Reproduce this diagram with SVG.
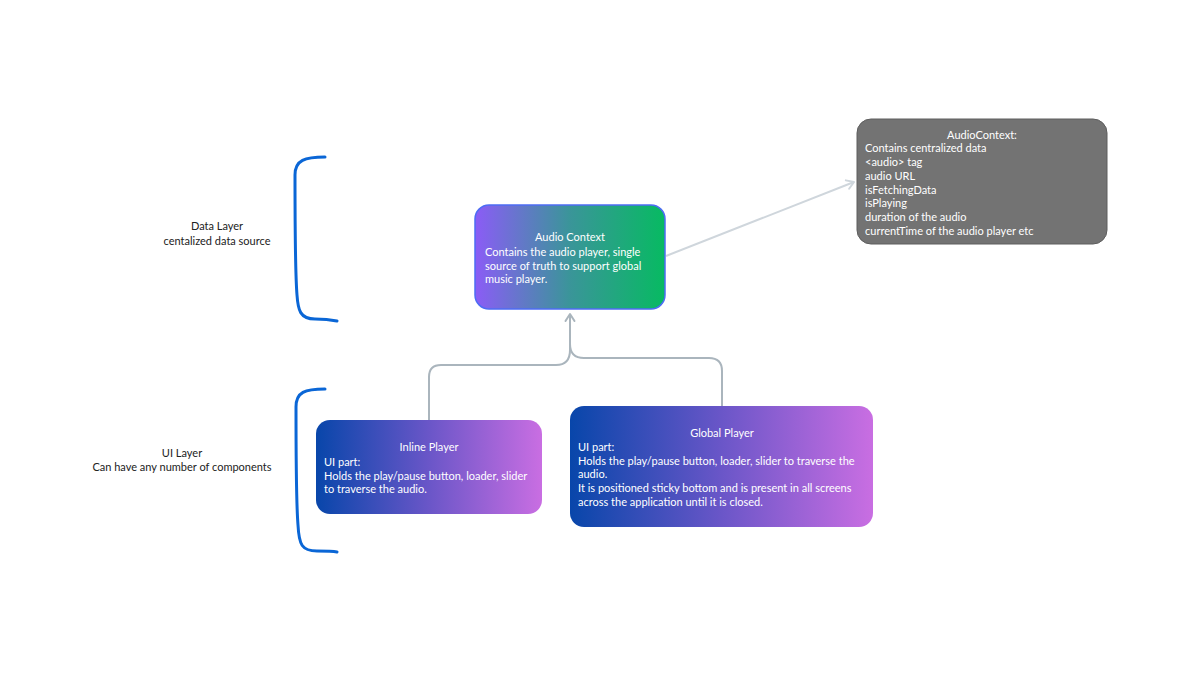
<svg xmlns="http://www.w3.org/2000/svg" width="1200" height="675" viewBox="0 0 1200 675">
<defs>
<linearGradient id="gCtx" x1="0" y1="0" x2="1" y2="0">
<stop offset="0" stop-color="#8b5cf6"/>
<stop offset="0.5" stop-color="#3a9599"/>
<stop offset="1" stop-color="#07ba62"/>
</linearGradient>
<linearGradient id="gUi" x1="0" y1="0" x2="1" y2="0">
<stop offset="0" stop-color="#0846aa"/>
<stop offset="0.5" stop-color="#6a56c8"/>
<stop offset="1" stop-color="#c96ee2"/>
</linearGradient>
<marker id="ah" viewBox="0 0 10 10" refX="8" refY="5" markerWidth="6" markerHeight="6" orient="auto" markerUnits="userSpaceOnUse">
<path d="M1,1 L8,5 L1,9" fill="none" stroke="context-stroke" stroke-width="1.6" stroke-linecap="round" stroke-linejoin="round"/>
</marker>
<marker id="ahGray" viewBox="0 0 12 12" refX="10" refY="6" markerWidth="12" markerHeight="12" orient="auto" markerUnits="userSpaceOnUse">
<path d="M3,1.5 L10,6 L3,10.5" fill="none" stroke="#aab5bd" stroke-width="2" stroke-linecap="round" stroke-linejoin="round"/>
</marker>
<marker id="ahLight" viewBox="0 0 12 12" refX="10" refY="6" markerWidth="12" markerHeight="12" orient="auto" markerUnits="userSpaceOnUse">
<path d="M3,1.5 L10,6 L3,10.5" fill="none" stroke="#cfd6dc" stroke-width="2" stroke-linecap="round" stroke-linejoin="round"/>
</marker>
</defs>
<style>
text{font-family:Lato,"Liberation Sans",sans-serif;font-size:11px}
.w{fill:#ffffff}
.d{fill:#222222}
.c{text-anchor:middle}
.br{fill:none;stroke:#0a66d6;stroke-width:3;stroke-linecap:round;stroke-linejoin:round}
.cn{fill:none;stroke:#aab5bd;stroke-width:2}
</style>
<rect width="1200" height="675" fill="#ffffff"/>

<g id="labels">
<g id="data-layer-label">
<text class="d c" x="217" y="230">Data Layer</text>
<text class="d c" x="217" y="245">centalized data source</text>
</g>
<g id="ui-layer-label">
<text class="d c" x="182" y="457">UI Layer</text>
<text class="d c" x="182" y="471">Can have any number of components</text>
</g>
</g>

<g id="brackets">
<path class="br" d="M325,157 C305,157 295,160 295,175 C295,220 295,270 297,295 C298,310 300,319 315,319 C325,319 332,320 337,321"/>
<path class="br" d="M325,389 C305,389 296,392 296,407 C296,450 296,500 298,525 C299,545 302,551 317,551 C327,551 332,551 337,552"/>
</g>

<g id="connectors">
<path class="cn" d="M429,420 V377 Q429,365 441,365 H556 Q570,365 570,350 V314" marker-end="url(#ahGray)"/>
<path class="cn" d="M722,406 V371 Q722,358 709,358 H584 Q570,358 570,344"/>
<path fill="none" stroke="#cfd6dc" stroke-width="2" d="M666,256 L854,182" marker-end="url(#ahLight)"/>
</g>

<g id="audio-context">
<rect x="475" y="205" width="190" height="104" rx="14" fill="url(#gCtx)" stroke="#4d6cf4" stroke-width="1.5"/>
<text class="w c" x="570" y="241">Audio Context</text>
<text class="w" x="485" y="256">Contains the audio player, single</text>
<text class="w" x="485" y="269.5">source of truth to support global</text>
<text class="w" x="485" y="283">music player.</text>
</g>

<g id="audio-context-details">
<rect x="857" y="119" width="250" height="125" rx="14" fill="#737373" stroke="#5e5e5e" stroke-width="1"/>
<text class="w c" x="982" y="139">AudioContext:</text>
<text class="w" x="865" y="152">Contains centralized data</text>
<text class="w" x="865" y="166">&lt;audio&gt; tag</text>
<text class="w" x="865" y="180">audio URL</text>
<text class="w" x="865" y="193.5">isFetchingData</text>
<text class="w" x="865" y="207">isPlaying</text>
<text class="w" x="865" y="221">duration of the audio</text>
<text class="w" x="865" y="235">currentTime of the audio player etc</text>
</g>

<g id="inline-player">
<rect x="316" y="420" width="226" height="94" rx="14" fill="url(#gUi)"/>
<text class="w c" x="429" y="451">Inline Player</text>
<text class="w" x="324" y="466">UI part:</text>
<text class="w" x="324" y="480">Holds the play/pause button, loader, slider</text>
<text class="w" x="324" y="493">to traverse the audio.</text>
</g>

<g id="global-player">
<rect x="570" y="406" width="303" height="121" rx="14" fill="url(#gUi)"/>
<text class="w c" x="722" y="437">Global Player</text>
<text class="w" x="578" y="451">UI part:</text>
<text class="w" x="578" y="465">Holds the play/pause button, loader, slider to traverse the</text>
<text class="w" x="578" y="478">audio.</text>
<text class="w" x="578" y="492">It is positioned sticky bottom and is present in all screens</text>
<text class="w" x="578" y="506">across the application until it is closed.</text>
</g>
</svg>
